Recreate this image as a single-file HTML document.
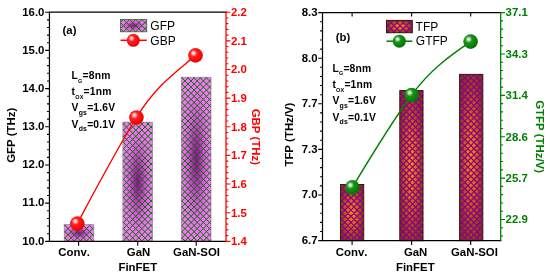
<!DOCTYPE html>
<html lang="en">
<head>
<meta charset="utf-8">
<title>GFP / GBP and TFP / GTFP comparison</title>
<style>
html,body{margin:0;padding:0;background:#fff;}
body{width:550px;height:276px;overflow:hidden;}
svg{display:block;font-family:"Liberation Sans",sans-serif;font-kerning:none;}
.tk{font-size:11.4px;font-weight:bold;}
.an{font-size:10.3px;font-weight:bold;letter-spacing:0.2px;}
.lg{font-size:12px;}
</style>
</head>
<body>
<svg width="550" height="276" viewBox="0 0 550 276">
<defs>
<radialGradient id="gm" cx="50%" cy="50%" r="50%">
<stop offset="0" stop-color="#8e0c8e"/>
<stop offset="0.25" stop-color="#b828b8"/>
<stop offset="0.55" stop-color="#de54de"/>
<stop offset="0.8" stop-color="#ee6eee"/>
<stop offset="1" stop-color="#f47af4"/>
</radialGradient>
<radialGradient id="go" cx="50%" cy="50%" r="56%">
<stop offset="0" stop-color="#ff8c00"/>
<stop offset="0.22" stop-color="#f27c00"/>
<stop offset="0.5" stop-color="#cc6006"/>
<stop offset="0.8" stop-color="#a0440e"/>
<stop offset="1" stop-color="#8a3610"/>
</radialGradient>
<radialGradient id="br" cx="38%" cy="36%" r="62%" fx="36%" fy="34%">
<stop offset="0" stop-color="#ffffff"/>
<stop offset="0.12" stop-color="#ffd0d0"/>
<stop offset="0.38" stop-color="#ff2020"/>
<stop offset="1" stop-color="#f00000"/>
</radialGradient>
<radialGradient id="bg" cx="38%" cy="36%" r="62%" fx="36%" fy="34%">
<stop offset="0" stop-color="#ffffff"/>
<stop offset="0.12" stop-color="#c8e8c8"/>
<stop offset="0.4" stop-color="#1a901a"/>
<stop offset="1" stop-color="#007800"/>
</radialGradient>
</defs>
<rect x="0" y="0" width="550" height="276" fill="#ffffff"/>

<!-- panel a -->
<rect x="64.2" y="224.6" width="29.6" height="16.75" fill="url(#gm)"/>
<path d="M64.2,237L68.55,241.35M64.2,230.85L74.7,241.35M64.2,224.7L80.85,241.35M70.25,224.6L87,241.35M76.4,224.6L93.15,241.35M82.55,224.6L93.8,235.85M88.7,224.6L93.8,229.7M64.2,226.3L65.9,224.6M64.2,232.45L72.05,224.6M64.2,238.6L78.2,224.6M67.6,241.35L84.35,224.6M73.75,241.35L90.5,224.6M79.9,241.35L93.8,227.45M86.05,241.35L93.8,233.6M92.2,241.35L93.8,239.75" stroke="#007200" stroke-width="1.0" fill="none"/>
<rect x="64.2" y="224.6" width="29.6" height="16.75" fill="none" stroke="#8a7a8a" stroke-width="0.6"/>
<rect x="122.9" y="122.1" width="29.6" height="119.25" fill="url(#gm)"/>
<path d="M122.9,240.35L123.9,241.35M122.9,234.2L130.05,241.35M122.9,228.05L136.2,241.35M122.9,221.9L142.35,241.35M122.9,215.75L148.5,241.35M122.9,209.6L152.5,239.2M122.9,203.45L152.5,233.05M122.9,197.3L152.5,226.9M122.9,191.15L152.5,220.75M122.9,185L152.5,214.6M122.9,178.85L152.5,208.45M122.9,172.7L152.5,202.3M122.9,166.55L152.5,196.15M122.9,160.4L152.5,190M122.9,154.25L152.5,183.85M122.9,148.1L152.5,177.7M122.9,141.95L152.5,171.55M122.9,135.8L152.5,165.4M122.9,129.65L152.5,159.25M122.9,123.5L152.5,153.1M127.65,122.1L152.5,146.95M133.8,122.1L152.5,140.8M139.95,122.1L152.5,134.65M146.1,122.1L152.5,128.5M152.25,122.1L152.5,122.35M122.9,124.55L125.35,122.1M122.9,130.7L131.5,122.1M122.9,136.85L137.65,122.1M122.9,143L143.8,122.1M122.9,149.15L149.95,122.1M122.9,155.3L152.5,125.7M122.9,161.45L152.5,131.85M122.9,167.6L152.5,138M122.9,173.75L152.5,144.15M122.9,179.9L152.5,150.3M122.9,186.05L152.5,156.45M122.9,192.2L152.5,162.6M122.9,198.35L152.5,168.75M122.9,204.5L152.5,174.9M122.9,210.65L152.5,181.05M122.9,216.8L152.5,187.2M122.9,222.95L152.5,193.35M122.9,229.1L152.5,199.5M122.9,235.25L152.5,205.65M122.95,241.35L152.5,211.8M129.1,241.35L152.5,217.95M135.25,241.35L152.5,224.1M141.4,241.35L152.5,230.25M147.55,241.35L152.5,236.4" stroke="#007200" stroke-width="1.0" fill="none"/>
<rect x="122.9" y="122.1" width="29.6" height="119.25" fill="none" stroke="#8a7a8a" stroke-width="0.6"/>
<rect x="181.4" y="77.2" width="29.6" height="164.15" fill="url(#gm)"/>
<path d="M181.4,237.35L185.4,241.35M181.4,231.2L191.55,241.35M181.4,225.05L197.7,241.35M181.4,218.9L203.85,241.35M181.4,212.75L210,241.35M181.4,206.6L211,236.2M181.4,200.45L211,230.05M181.4,194.3L211,223.9M181.4,188.15L211,217.75M181.4,182L211,211.6M181.4,175.85L211,205.45M181.4,169.7L211,199.3M181.4,163.55L211,193.15M181.4,157.4L211,187M181.4,151.25L211,180.85M181.4,145.1L211,174.7M181.4,138.95L211,168.55M181.4,132.8L211,162.4M181.4,126.65L211,156.25M181.4,120.5L211,150.1M181.4,114.35L211,143.95M181.4,108.2L211,137.8M181.4,102.05L211,131.65M181.4,95.9L211,125.5M181.4,89.75L211,119.35M181.4,83.6L211,113.2M181.4,77.45L211,107.05M187.3,77.2L211,100.9M193.45,77.2L211,94.75M199.6,77.2L211,88.6M205.75,77.2L211,82.45M181.4,78.35L182.55,77.2M181.4,84.5L188.7,77.2M181.4,90.65L194.85,77.2M181.4,96.8L201,77.2M181.4,102.95L207.15,77.2M181.4,109.1L211,79.5M181.4,115.25L211,85.65M181.4,121.4L211,91.8M181.4,127.55L211,97.95M181.4,133.7L211,104.1M181.4,139.85L211,110.25M181.4,146L211,116.4M181.4,152.15L211,122.55M181.4,158.3L211,128.7M181.4,164.45L211,134.85M181.4,170.6L211,141M181.4,176.75L211,147.15M181.4,182.9L211,153.3M181.4,189.05L211,159.45M181.4,195.2L211,165.6M181.4,201.35L211,171.75M181.4,207.5L211,177.9M181.4,213.65L211,184.05M181.4,219.8L211,190.2M181.4,225.95L211,196.35M181.4,232.1L211,202.5M181.4,238.25L211,208.65M184.45,241.35L211,214.8M190.6,241.35L211,220.95M196.75,241.35L211,227.1M202.9,241.35L211,233.25M209.05,241.35L211,239.4" stroke="#007200" stroke-width="1.0" fill="none"/>
<rect x="181.4" y="77.2" width="29.6" height="164.15" fill="none" stroke="#8a7a8a" stroke-width="0.6"/>
<path d="M49.45,241.35 L49.45,12.2 L226,12.2 M49.45,241.35 L226,241.35" stroke="#000" stroke-width="1.2" fill="none" stroke-linecap="square"/>
<path d="M226,12.2 L226,241.35" stroke="#ff0000" stroke-width="1.3" fill="none" stroke-linecap="square"/>
<path d="M45.15,12.2 L49.45,12.2 M47.05,19.84 L49.45,19.84 M47.05,27.48 L49.45,27.48 M47.05,35.12 L49.45,35.12 M47.05,42.75 L49.45,42.75 M45.15,50.39 L49.45,50.39 M47.05,58.03 L49.45,58.03 M47.05,65.67 L49.45,65.67 M47.05,73.31 L49.45,73.31 M47.05,80.94 L49.45,80.94 M45.15,88.58 L49.45,88.58 M47.05,96.22 L49.45,96.22 M47.05,103.86 L49.45,103.86 M47.05,111.5 L49.45,111.5 M47.05,119.14 L49.45,119.14 M45.15,126.78 L49.45,126.78 M47.05,134.41 L49.45,134.41 M47.05,142.05 L49.45,142.05 M47.05,149.69 L49.45,149.69 M47.05,157.33 L49.45,157.33 M45.15,164.97 L49.45,164.97 M47.05,172.6 L49.45,172.6 M47.05,180.24 L49.45,180.24 M47.05,187.88 L49.45,187.88 M47.05,195.52 L49.45,195.52 M45.15,203.16 L49.45,203.16 M47.05,210.8 L49.45,210.8 M47.05,218.44 L49.45,218.44 M47.05,226.07 L49.45,226.07 M47.05,233.71 L49.45,233.71 M45.15,241.35 L49.45,241.35" stroke="#000" stroke-width="1.1" fill="none"/>
<text class="tk" x="44.45" y="15.5" text-anchor="end" fill="#000">16.0</text>
<text class="tk" x="44.45" y="53.69" text-anchor="end" fill="#000">15.0</text>
<text class="tk" x="44.45" y="91.88" text-anchor="end" fill="#000">14.0</text>
<text class="tk" x="44.45" y="130.08" text-anchor="end" fill="#000">13.0</text>
<text class="tk" x="44.45" y="168.27" text-anchor="end" fill="#000">12.0</text>
<text class="tk" x="44.45" y="206.46" text-anchor="end" fill="#000">11.0</text>
<text class="tk" x="44.45" y="244.65" text-anchor="end" fill="#000">10.0</text>
<path d="M226,12.2 L230.3,12.2 M226,17.93 L228.4,17.93 M226,23.66 L228.4,23.66 M226,29.39 L228.4,29.39 M226,35.11 L228.4,35.11 M226,40.84 L230.3,40.84 M226,46.57 L228.4,46.57 M226,52.3 L228.4,52.3 M226,58.03 L228.4,58.03 M226,63.76 L228.4,63.76 M226,69.49 L230.3,69.49 M226,75.22 L228.4,75.22 M226,80.94 L228.4,80.94 M226,86.67 L228.4,86.67 M226,92.4 L228.4,92.4 M226,98.13 L230.3,98.13 M226,103.86 L228.4,103.86 M226,109.59 L228.4,109.59 M226,115.32 L228.4,115.32 M226,121.05 L228.4,121.05 M226,126.77 L230.3,126.77 M226,132.5 L228.4,132.5 M226,138.23 L228.4,138.23 M226,143.96 L228.4,143.96 M226,149.69 L228.4,149.69 M226,155.42 L230.3,155.42 M226,161.15 L228.4,161.15 M226,166.88 L228.4,166.88 M226,172.6 L228.4,172.6 M226,178.33 L228.4,178.33 M226,184.06 L230.3,184.06 M226,189.79 L228.4,189.79 M226,195.52 L228.4,195.52 M226,201.25 L228.4,201.25 M226,206.98 L228.4,206.98 M226,212.71 L230.3,212.71 M226,218.44 L228.4,218.44 M226,224.16 L228.4,224.16 M226,229.89 L228.4,229.89 M226,235.62 L228.4,235.62 M226,241.35 L230.3,241.35" stroke="#ff0000" stroke-width="1.1" fill="none"/>
<text class="tk" x="230.9" y="16" fill="#ff0000">2.2</text>
<text class="tk" x="230.9" y="44.64" fill="#ff0000">2.1</text>
<text class="tk" x="230.9" y="73.29" fill="#ff0000">2.0</text>
<text class="tk" x="230.9" y="101.93" fill="#ff0000">1.9</text>
<text class="tk" x="230.9" y="130.58" fill="#ff0000">1.8</text>
<text class="tk" x="230.9" y="159.22" fill="#ff0000">1.7</text>
<text class="tk" x="230.9" y="187.86" fill="#ff0000">1.6</text>
<text class="tk" x="230.9" y="216.51" fill="#ff0000">1.5</text>
<text class="tk" x="230.9" y="245.15" fill="#ff0000">1.4</text>
<path d="M78.6,241.35 L78.6,245.85 M137.7,241.35 L137.7,245.85 M196.2,241.35 L196.2,245.85" stroke="#000" stroke-width="1.1" fill="none"/>
<text class="tk" x="74.15" y="256.4" text-anchor="middle" fill="#000">Conv.</text>
<text class="tk" x="138.5" y="256.4" text-anchor="middle" fill="#000">GaN</text>
<text class="tk" x="196.5" y="256.4" text-anchor="middle" fill="#000">GaN-SOI</text>
<text class="tk" x="137.8" y="270.9" text-anchor="middle" fill="#000">FinFET</text>
<path d="M77.3,223.6 C97,186.6 116.7,149.4 136.4,117.5 C156.1,85.6 175.8,72.3 195.5,55.4" stroke="#ff0000" stroke-width="1.4" fill="none"/>
<circle cx="77.3" cy="223.6" r="7.3" fill="url(#br)"/>
<circle cx="136.4" cy="117.5" r="7.3" fill="url(#br)"/>
<circle cx="195.5" cy="55.4" r="7.3" fill="url(#br)"/>
<rect x="120.5" y="19.5" width="26.2" height="12.3" fill="url(#gm)"/>
<path d="M120.5,28.85L123.45,31.8M120.5,22.7L129.6,31.8M123.45,19.5L135.75,31.8M129.6,19.5L141.9,31.8M135.75,19.5L146.7,30.45M141.9,19.5L146.7,24.3M120.5,22.4L123.4,19.5M120.5,28.55L129.55,19.5M123.4,31.8L135.7,19.5M129.55,31.8L141.85,19.5M135.7,31.8L146.7,20.8M141.85,31.8L146.7,26.95" stroke="#007200" stroke-width="1.0" fill="none"/>
<rect x="120.5" y="19.5" width="26.2" height="12.3" fill="none" stroke="#2a6a2a" stroke-width="0.8"/>
<text class="lg" x="150.3" y="29.8" fill="#000">GFP</text>
<path d="M120.5,40.3 L146.7,40.3" stroke="#ff0000" stroke-width="1.5"/>
<circle cx="133.3" cy="40.3" r="6.5" fill="url(#br)"/>
<text class="lg" x="150.3" y="44.9" fill="#000">GBP</text>
<text class="an" x="71.6" y="78.8" fill="#000">L<tspan dy="3.8" font-size="5.5px">G</tspan><tspan dy="-3.8">=8nm</tspan></text>
<text class="an" x="71.6" y="95" fill="#000">t<tspan dy="3.8" font-size="5.5px">OX</tspan><tspan dy="-3.8">=1nm</tspan></text>
<text class="an" x="71.6" y="111" fill="#000">V<tspan dy="4.0" font-size="6.9px">gs</tspan><tspan dy="-4.0">=1.6V</tspan></text>
<text class="an" x="71.6" y="128.3" fill="#000">V<tspan dy="3.0" font-size="6.9px">ds</tspan><tspan dy="-3.0">=0.1V</tspan></text>
<text class="tk" x="69.5" y="33.6" text-anchor="middle" fill="#000">(a)</text>
<text class="tk" transform="translate(15.2,135.3) rotate(-90)" text-anchor="middle" fill="#000">GFP (THz)</text>
<text class="tk" transform="translate(251.8,136.9) rotate(90)" text-anchor="middle" fill="#ff0000">GBP (THz)</text>
<!-- panel b -->
<rect x="340.5" y="184.5" width="23.2" height="56.1" fill="url(#go)"/>
<path d="M340.5,236.55L344.55,240.6M340.5,230.4L350.7,240.6M340.5,224.25L356.85,240.6M340.5,218.1L363,240.6M340.5,211.95L363.7,235.15M340.5,205.8L363.7,229M340.5,199.65L363.7,222.85M340.5,193.5L363.7,216.7M340.5,187.35L363.7,210.55M343.8,184.5L363.7,204.4M349.95,184.5L363.7,198.25M356.1,184.5L363.7,192.1M362.25,184.5L363.7,185.95M340.5,189.85L345.85,184.5M340.5,196L352,184.5M340.5,202.15L358.15,184.5M340.5,208.3L363.7,185.1M340.5,214.45L363.7,191.25M340.5,220.6L363.7,197.4M340.5,226.75L363.7,203.55M340.5,232.9L363.7,209.7M340.5,239.05L363.7,215.85M345.1,240.6L363.7,222M351.25,240.6L363.7,228.15M357.4,240.6L363.7,234.3M363.55,240.6L363.7,240.45" stroke="#860098" stroke-width="1.3" fill="none"/>
<rect x="340.5" y="184.5" width="23.2" height="56.1" fill="none" stroke="#3a1a08" stroke-width="1"/>
<rect x="399.8" y="90.6" width="23.2" height="150" fill="url(#go)"/>
<path d="M399.8,240.5L399.9,240.6M399.8,234.35L406.05,240.6M399.8,228.2L412.2,240.6M399.8,222.05L418.35,240.6M399.8,215.9L423,239.1M399.8,209.75L423,232.95M399.8,203.6L423,226.8M399.8,197.45L423,220.65M399.8,191.3L423,214.5M399.8,185.15L423,208.35M399.8,179L423,202.2M399.8,172.85L423,196.05M399.8,166.7L423,189.9M399.8,160.55L423,183.75M399.8,154.4L423,177.6M399.8,148.25L423,171.45M399.8,142.1L423,165.3M399.8,135.95L423,159.15M399.8,129.8L423,153M399.8,123.65L423,146.85M399.8,117.5L423,140.7M399.8,111.35L423,134.55M399.8,105.2L423,128.4M399.8,99.05L423,122.25M399.8,92.9L423,116.1M403.65,90.6L423,109.95M409.8,90.6L423,103.8M415.95,90.6L423,97.65M422.1,90.6L423,91.5M399.8,93.65L402.85,90.6M399.8,99.8L409,90.6M399.8,105.95L415.15,90.6M399.8,112.1L421.3,90.6M399.8,118.25L423,95.05M399.8,124.4L423,101.2M399.8,130.55L423,107.35M399.8,136.7L423,113.5M399.8,142.85L423,119.65M399.8,149L423,125.8M399.8,155.15L423,131.95M399.8,161.3L423,138.1M399.8,167.45L423,144.25M399.8,173.6L423,150.4M399.8,179.75L423,156.55M399.8,185.9L423,162.7M399.8,192.05L423,168.85M399.8,198.2L423,175M399.8,204.35L423,181.15M399.8,210.5L423,187.3M399.8,216.65L423,193.45M399.8,222.8L423,199.6M399.8,228.95L423,205.75M399.8,235.1L423,211.9M400.45,240.6L423,218.05M406.6,240.6L423,224.2M412.75,240.6L423,230.35M418.9,240.6L423,236.5" stroke="#860098" stroke-width="1.3" fill="none"/>
<rect x="399.8" y="90.6" width="23.2" height="150" fill="none" stroke="#3a1a08" stroke-width="1"/>
<rect x="459.6" y="74.4" width="23.2" height="166.2" fill="url(#go)"/>
<path d="M459.6,238.8L461.4,240.6M459.6,232.65L467.55,240.6M459.6,226.5L473.7,240.6M459.6,220.35L479.85,240.6M459.6,214.2L482.8,237.4M459.6,208.05L482.8,231.25M459.6,201.9L482.8,225.1M459.6,195.75L482.8,218.95M459.6,189.6L482.8,212.8M459.6,183.45L482.8,206.65M459.6,177.3L482.8,200.5M459.6,171.15L482.8,194.35M459.6,165L482.8,188.2M459.6,158.85L482.8,182.05M459.6,152.7L482.8,175.9M459.6,146.55L482.8,169.75M459.6,140.4L482.8,163.6M459.6,134.25L482.8,157.45M459.6,128.1L482.8,151.3M459.6,121.95L482.8,145.15M459.6,115.8L482.8,139M459.6,109.65L482.8,132.85M459.6,103.5L482.8,126.7M459.6,97.35L482.8,120.55M459.6,91.2L482.8,114.4M459.6,85.05L482.8,108.25M459.6,78.9L482.8,102.1M461.25,74.4L482.8,95.95M467.4,74.4L482.8,89.8M473.55,74.4L482.8,83.65M479.7,74.4L482.8,77.5M459.6,76.9L462.1,74.4M459.6,83.05L468.25,74.4M459.6,89.2L474.4,74.4M459.6,95.35L480.55,74.4M459.6,101.5L482.8,78.3M459.6,107.65L482.8,84.45M459.6,113.8L482.8,90.6M459.6,119.95L482.8,96.75M459.6,126.1L482.8,102.9M459.6,132.25L482.8,109.05M459.6,138.4L482.8,115.2M459.6,144.55L482.8,121.35M459.6,150.7L482.8,127.5M459.6,156.85L482.8,133.65M459.6,163L482.8,139.8M459.6,169.15L482.8,145.95M459.6,175.3L482.8,152.1M459.6,181.45L482.8,158.25M459.6,187.6L482.8,164.4M459.6,193.75L482.8,170.55M459.6,199.9L482.8,176.7M459.6,206.05L482.8,182.85M459.6,212.2L482.8,189M459.6,218.35L482.8,195.15M459.6,224.5L482.8,201.3M459.6,230.65L482.8,207.45M459.6,236.8L482.8,213.6M461.95,240.6L482.8,219.75M468.1,240.6L482.8,225.9M474.25,240.6L482.8,232.05M480.4,240.6L482.8,238.2" stroke="#860098" stroke-width="1.3" fill="none"/>
<rect x="459.6" y="74.4" width="23.2" height="166.2" fill="none" stroke="#3a1a08" stroke-width="1"/>
<path d="M322.5,240.6 L322.5,12.6 L500.7,12.6 M322.5,240.6 L500.7,240.6" stroke="#000" stroke-width="1.2" fill="none" stroke-linecap="square"/>
<path d="M500.7,12.6 L500.7,240.6" stroke="#008000" stroke-width="1.3" fill="none" stroke-linecap="square"/>
<path d="M318.2,12.6 L322.5,12.6 M320.1,21.72 L322.5,21.72 M320.1,30.84 L322.5,30.84 M320.1,39.96 L322.5,39.96 M320.1,49.08 L322.5,49.08 M318.2,58.2 L322.5,58.2 M320.1,67.32 L322.5,67.32 M320.1,76.44 L322.5,76.44 M320.1,85.56 L322.5,85.56 M320.1,94.68 L322.5,94.68 M318.2,103.8 L322.5,103.8 M320.1,112.92 L322.5,112.92 M320.1,122.04 L322.5,122.04 M320.1,131.16 L322.5,131.16 M320.1,140.28 L322.5,140.28 M318.2,149.4 L322.5,149.4 M320.1,158.52 L322.5,158.52 M320.1,167.64 L322.5,167.64 M320.1,176.76 L322.5,176.76 M320.1,185.88 L322.5,185.88 M318.2,195 L322.5,195 M320.1,204.12 L322.5,204.12 M320.1,213.24 L322.5,213.24 M320.1,222.36 L322.5,222.36 M320.1,231.48 L322.5,231.48 M318.2,240.6 L322.5,240.6" stroke="#000" stroke-width="1.1" fill="none"/>
<text class="tk" x="317.5" y="15.9" text-anchor="end" fill="#000">8.3</text>
<text class="tk" x="317.5" y="61.5" text-anchor="end" fill="#000">8.0</text>
<text class="tk" x="317.5" y="107.1" text-anchor="end" fill="#000">7.7</text>
<text class="tk" x="317.5" y="152.7" text-anchor="end" fill="#000">7.3</text>
<text class="tk" x="317.5" y="198.3" text-anchor="end" fill="#000">7.0</text>
<text class="tk" x="317.5" y="243.9" text-anchor="end" fill="#000">6.7</text>
<path d="M500.7,12.6 L505,12.6 M500.7,20.88 L503.1,20.88 M500.7,29.15 L503.1,29.15 M500.7,37.43 L503.1,37.43 M500.7,45.7 L503.1,45.7 M500.7,53.98 L505,53.98 M500.7,62.26 L503.1,62.26 M500.7,70.53 L503.1,70.53 M500.7,78.81 L503.1,78.81 M500.7,87.08 L503.1,87.08 M500.7,95.36 L505,95.36 M500.7,103.64 L503.1,103.64 M500.7,111.91 L503.1,111.91 M500.7,120.19 L503.1,120.19 M500.7,128.46 L503.1,128.46 M500.7,136.74 L505,136.74 M500.7,145.02 L503.1,145.02 M500.7,153.29 L503.1,153.29 M500.7,161.57 L503.1,161.57 M500.7,169.84 L503.1,169.84 M500.7,178.12 L505,178.12 M500.7,186.4 L503.1,186.4 M500.7,194.67 L503.1,194.67 M500.7,202.95 L503.1,202.95 M500.7,211.22 L503.1,211.22 M500.7,219.5 L505,219.5 M500.7,227.78 L503.1,227.78 M500.7,236.05 L503.1,236.05" stroke="#008000" stroke-width="1.1" fill="none"/>
<text class="tk" x="505.6" y="16.4" fill="#008000">37.1</text>
<text class="tk" x="505.6" y="57.78" fill="#008000">34.3</text>
<text class="tk" x="505.6" y="99.16" fill="#008000">31.4</text>
<text class="tk" x="505.6" y="140.54" fill="#008000">28.6</text>
<text class="tk" x="505.6" y="181.92" fill="#008000">25.7</text>
<text class="tk" x="505.6" y="223.3" fill="#008000">22.9</text>
<path d="M352.1,240.6 L352.1,245.1 M352.1,12.6 L352.1,16.6 M411.6,240.6 L411.6,245.1 M411.6,12.6 L411.6,16.6 M470.7,240.6 L470.7,245.1 M470.7,12.6 L470.7,16.6" stroke="#000" stroke-width="1.1" fill="none"/>
<text class="tk" x="351.6" y="256.4" text-anchor="middle" fill="#000">Conv.</text>
<text class="tk" x="415.6" y="256.4" text-anchor="middle" fill="#000">GaN</text>
<text class="tk" x="474.4" y="256.4" text-anchor="middle" fill="#000">GaN-SOI</text>
<text class="tk" x="415.3" y="270.9" text-anchor="middle" fill="#000">FinFET</text>
<path d="M352.3,187.4 C372.1,154.6 391.8,121.9 411.6,95 C431.3,68.3 450.9,55.2 470.6,41.6" stroke="#008000" stroke-width="1.4" fill="none"/>
<circle cx="352.3" cy="187.4" r="7.3" fill="url(#bg)"/>
<circle cx="411.6" cy="95" r="7.3" fill="url(#bg)"/>
<circle cx="470.6" cy="41.6" r="7.3" fill="url(#bg)"/>
<rect x="386.5" y="20.4" width="25.8" height="12.3" fill="url(#go)"/>
<path d="M386.5,30.4L388.8,32.7M386.5,24.25L394.95,32.7M388.8,20.4L401.1,32.7M394.95,20.4L407.25,32.7M401.1,20.4L412.3,31.6M407.25,20.4L412.3,25.45M386.5,20.85L386.95,20.4M386.5,27L393.1,20.4M386.95,32.7L399.25,20.4M393.1,32.7L405.4,20.4M399.25,32.7L411.55,20.4M405.4,32.7L412.3,25.8M411.55,32.7L412.3,31.95" stroke="#860098" stroke-width="1.3" fill="none"/>
<rect x="386.5" y="20.4" width="25.8" height="12.3" fill="none" stroke="#3a1a08" stroke-width="1"/>
<text class="lg" x="415.6" y="30.6" fill="#000">TFP</text>
<path d="M386.5,41.2 L412.3,41.2" stroke="#008000" stroke-width="1.5"/>
<circle cx="399.3" cy="41.2" r="6.5" fill="url(#bg)"/>
<text class="lg" x="415.8" y="44.6" fill="#000">GTFP</text>
<text class="an" x="332.4" y="71.6" fill="#000">L<tspan dy="3.8" font-size="5.5px">G</tspan><tspan dy="-3.8">=8nm</tspan></text>
<text class="an" x="332.4" y="87.9" fill="#000">t<tspan dy="3.8" font-size="5.5px">OX</tspan><tspan dy="-3.8">=1nm</tspan></text>
<text class="an" x="332.4" y="104" fill="#000">V<tspan dy="4.0" font-size="6.9px">gs</tspan><tspan dy="-4.0">=1.6V</tspan></text>
<text class="an" x="332.4" y="121.3" fill="#000">V<tspan dy="3.0" font-size="6.9px">ds</tspan><tspan dy="-3.0">=0.1V</tspan></text>
<text class="tk" x="343" y="41.3" text-anchor="middle" fill="#000">(b)</text>
<text class="tk" transform="translate(293.4,134.6) rotate(-90)" text-anchor="middle" fill="#000">TFP (THz/V)</text>
<text class="tk" transform="translate(536.3,136.6) rotate(90)" text-anchor="middle" fill="#008000">GTFP (THz/V)</text>
</svg>
</body>
</html>
